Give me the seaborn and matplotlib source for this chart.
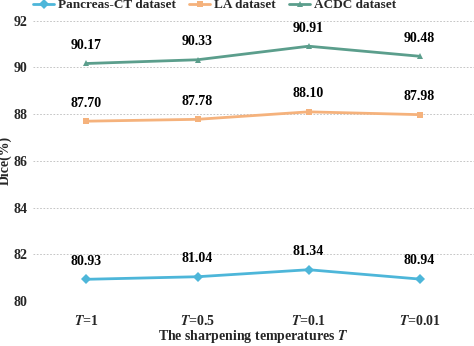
import matplotlib
matplotlib.use("Agg")
import matplotlib.pyplot as plt
import seaborn as sns
import pandas as pd

temps = ["$T$=1", "$T$=0.5", "$T$=0.1", "$T$=0.01"]
pancreas = [80.93, 81.04, 81.34, 80.94]
la = [87.70, 87.78, 88.10, 87.98]
acdc = [90.17, 90.33, 90.91, 90.48]
series_names = ["Pancreas-CT dataset", "LA dataset", "ACDC dataset"]
colors = ["#4db6d9", "#f5b27c", "#5b9e8c"]
markers = ["D", "s", "^"]

sns.set_theme(style="white")
plt.rcParams["font.family"] = ["Liberation Serif", "DejaVu Serif"]
plt.rcParams["mathtext.fontset"] = "stix"
plt.rcParams["font.weight"] = "bold"

rows = []
for name, vals in zip(series_names, [pancreas, la, acdc]):
    for i, (t, v) in enumerate(zip(temps, vals)):
        rows.append({"T": i, "label": t, "Dice": v, "dataset": name})
df = pd.DataFrame(rows)

fig = plt.figure(figsize=(4.74, 3.46), dpi=100)
ax = fig.add_axes([0.07, 0.13, 0.93, 0.81])

sns.lineplot(data=df, x="T", y="Dice", hue="dataset", style="dataset",
             palette=colors, markers=markers, dashes=False, linewidth=2.0,
             markersize=5, markeredgewidth=0, ax=ax)

for vals in [pancreas, la, acdc]:
    for i, v in enumerate(vals):
        ax.text(i, v + 0.5, f"{v:.2f}", ha="center", va="bottom",
                fontsize=10, fontweight="bold", color="black")

ax.set_ylim(80, 92)
ax.set_xlim(-0.48, 3.49)
ax.set_yticks([80, 82, 84, 86, 88, 90, 92])
ax.set_xticks(range(4))
ax.set_xticklabels(temps)
ax.grid(axis="y", linestyle=(0, (2, 2)), color="#bbbbbb", linewidth=0.6)
ax.grid(axis="x", visible=False)
for s in ax.spines.values():
    s.set_visible(False)
ax.tick_params(axis="y", length=3, width=0.6, color="#555555", labelsize=10, pad=1)
ax.tick_params(axis="x", length=3, width=0.6, color="#555555", labelsize=10, pad=6)
for lab in ax.get_xticklabels() + ax.get_yticklabels():
    lab.set_fontweight("bold")
ax.set_xlabel("The sharpening temperatures $T$", fontsize=10, fontweight="bold", labelpad=0)
ax.set_ylabel("Dice(%)", fontsize=10, fontweight="bold", labelpad=1)
ax.yaxis.set_label_coords(-0.048, 0.5)

ax.legend(loc="center left", bbox_to_anchor=(0.0, 1.055), ncol=3, frameon=False,
          handlelength=1.6, columnspacing=1.0, handletextpad=0.3, borderaxespad=0,
          borderpad=0, prop={"weight": "bold", "size": 9.5})

fig.savefig("out.png", dpi=100)
